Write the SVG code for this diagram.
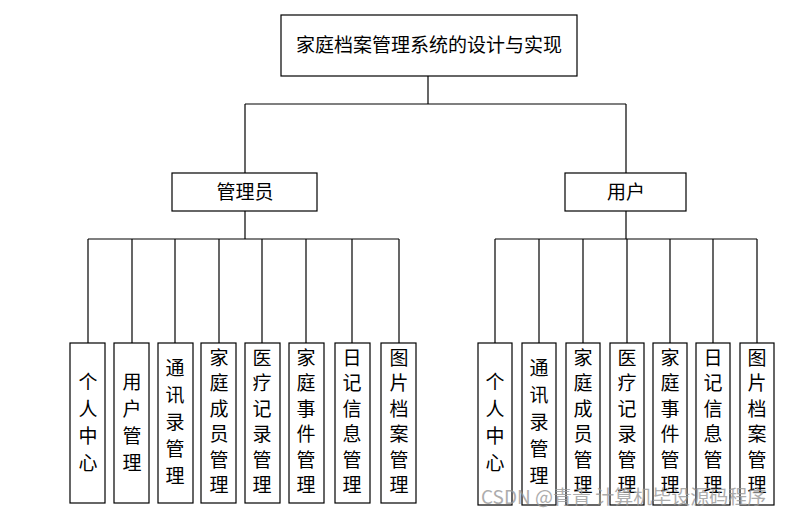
<svg xmlns="http://www.w3.org/2000/svg" width="801" height="517" viewBox="0 0 801 517">
<style>
rect{fill:#fff;stroke:#000;stroke-width:1.2}
.c line{stroke:#000;stroke-width:1.2}
text{font-family:"Noto Sans CJK SC","Liberation Sans",sans-serif;fill:#000;text-anchor:middle}
.v{font-size:19px}
.h{font-size:19px}
.wm{font-size:19px;fill:#999;opacity:.8;text-anchor:start}
</style>
<rect width="801" height="517" style="fill:#fff;stroke:none"/>
<g class="c">
<line x1="428" y1="76" x2="428" y2="104"/>
<line x1="245" y1="104" x2="626" y2="104"/>
<line x1="245" y1="104" x2="245" y2="173"/>
<line x1="626" y1="104" x2="626" y2="173"/>
<line x1="245" y1="211" x2="245" y2="239"/>
<line x1="88" y1="239" x2="399" y2="239"/>
<line x1="88" y1="239" x2="88" y2="343"/><line x1="132" y1="239" x2="132" y2="343"/><line x1="175" y1="239" x2="175" y2="343"/><line x1="219" y1="239" x2="219" y2="343"/><line x1="262" y1="239" x2="262" y2="343"/><line x1="306" y1="239" x2="306" y2="343"/><line x1="352" y1="239" x2="352" y2="343"/><line x1="399" y1="239" x2="399" y2="343"/>
<line x1="626" y1="211" x2="626" y2="239"/>
<line x1="495" y1="239" x2="757" y2="239"/>
<line x1="495" y1="239" x2="495" y2="343"/><line x1="539" y1="239" x2="539" y2="343"/><line x1="583" y1="239" x2="583" y2="343"/><line x1="627" y1="239" x2="627" y2="343"/><line x1="670" y1="239" x2="670" y2="343"/><line x1="713" y1="239" x2="713" y2="343"/><line x1="757" y1="239" x2="757" y2="343"/>
</g>
<g id="root"><rect x="281" y="15" width="296" height="61"/><text class="h" x="429" y="52">家庭档案管理系统的设计与实现</text></g>
<g id="admin"><rect x="172" y="173" width="145" height="38"/><text class="h" x="245" y="199">管理员</text></g>
<g id="user"><rect x="565" y="173" width="121" height="38"/><text class="h" x="626" y="199">用户</text></g>
<g id="a1"><rect x="70" y="343" width="35" height="160"/><text class="v"><tspan x="88" y="389">个</tspan><tspan x="88" y="416">人</tspan><tspan x="88" y="443">中</tspan><tspan x="88" y="470">心</tspan></text></g>
<g id="a2"><rect x="114" y="343" width="35" height="160"/><text class="v"><tspan x="132" y="389">用</tspan><tspan x="132" y="416">户</tspan><tspan x="132" y="443">管</tspan><tspan x="132" y="470">理</tspan></text></g>
<g id="a3"><rect x="158" y="343" width="35" height="160"/><text class="v"><tspan x="175" y="375">通</tspan><tspan x="175" y="402">讯</tspan><tspan x="175" y="429">录</tspan><tspan x="175" y="456">管</tspan><tspan x="175" y="483">理</tspan></text></g>
<g id="a4"><rect x="201" y="343" width="35" height="160"/><text class="v"><tspan x="219" y="365">家</tspan><tspan x="219" y="390">庭</tspan><tspan x="219" y="416">成</tspan><tspan x="219" y="441">员</tspan><tspan x="219" y="467">管</tspan><tspan x="219" y="492">理</tspan></text></g>
<g id="a5"><rect x="245" y="343" width="35" height="160"/><text class="v"><tspan x="262" y="365">医</tspan><tspan x="262" y="390">疗</tspan><tspan x="262" y="416">记</tspan><tspan x="262" y="441">录</tspan><tspan x="262" y="467">管</tspan><tspan x="262" y="492">理</tspan></text></g>
<g id="a6"><rect x="289" y="343" width="35" height="160"/><text class="v"><tspan x="306" y="365">家</tspan><tspan x="306" y="390">庭</tspan><tspan x="306" y="416">事</tspan><tspan x="306" y="441">件</tspan><tspan x="306" y="467">管</tspan><tspan x="306" y="492">理</tspan></text></g>
<g id="a7"><rect x="335" y="343" width="35" height="160"/><text class="v"><tspan x="352" y="365">日</tspan><tspan x="352" y="390">记</tspan><tspan x="352" y="416">信</tspan><tspan x="352" y="441">息</tspan><tspan x="352" y="467">管</tspan><tspan x="352" y="492">理</tspan></text></g>
<g id="a8"><rect x="381" y="343" width="35" height="160"/><text class="v"><tspan x="399" y="365">图</tspan><tspan x="399" y="390">片</tspan><tspan x="399" y="416">档</tspan><tspan x="399" y="441">案</tspan><tspan x="399" y="467">管</tspan><tspan x="399" y="492">理</tspan></text></g>
<g id="u1"><rect x="478" y="343" width="34" height="162"/><text class="v"><tspan x="495" y="389">个</tspan><tspan x="495" y="416">人</tspan><tspan x="495" y="443">中</tspan><tspan x="495" y="470">心</tspan></text></g>
<g id="u2"><rect x="522" y="343" width="34" height="162"/><text class="v"><tspan x="539" y="375">通</tspan><tspan x="539" y="402">讯</tspan><tspan x="539" y="429">录</tspan><tspan x="539" y="456">管</tspan><tspan x="539" y="483">理</tspan></text></g>
<g id="u3"><rect x="566" y="343" width="34" height="162"/><text class="v"><tspan x="583" y="365">家</tspan><tspan x="583" y="390">庭</tspan><tspan x="583" y="416">成</tspan><tspan x="583" y="441">员</tspan><tspan x="583" y="467">管</tspan><tspan x="583" y="492">理</tspan></text></g>
<g id="u4"><rect x="610" y="343" width="34" height="162"/><text class="v"><tspan x="627" y="365">医</tspan><tspan x="627" y="390">疗</tspan><tspan x="627" y="416">记</tspan><tspan x="627" y="441">录</tspan><tspan x="627" y="467">管</tspan><tspan x="627" y="492">理</tspan></text></g>
<g id="u5"><rect x="653" y="343" width="34" height="162"/><text class="v"><tspan x="670" y="365">家</tspan><tspan x="670" y="390">庭</tspan><tspan x="670" y="416">事</tspan><tspan x="670" y="441">件</tspan><tspan x="670" y="467">管</tspan><tspan x="670" y="492">理</tspan></text></g>
<g id="u6"><rect x="696" y="343" width="34" height="162"/><text class="v"><tspan x="713" y="365">日</tspan><tspan x="713" y="390">记</tspan><tspan x="713" y="416">信</tspan><tspan x="713" y="441">息</tspan><tspan x="713" y="467">管</tspan><tspan x="713" y="492">理</tspan></text></g>
<g id="u7"><rect x="740" y="343" width="34" height="162"/><text class="v"><tspan x="757" y="365">图</tspan><tspan x="757" y="390">片</tspan><tspan x="757" y="416">档</tspan><tspan x="757" y="441">案</tspan><tspan x="757" y="467">管</tspan><tspan x="757" y="492">理</tspan></text></g>
<text class="wm" x="481" y="504">CSDN @青青  计算机毕设源码程序</text>
</svg>
